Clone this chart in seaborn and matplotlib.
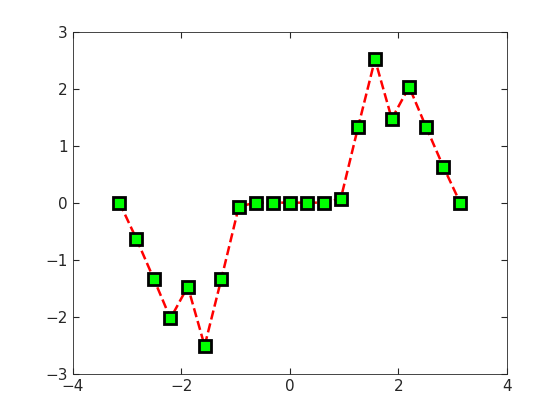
import numpy as np
import pandas as pd
import seaborn as sns
from matplotlib import pyplot as plt

# values
xs = [-3.14, -2.83, -2.51, -2.20, -1.88, -1.57, -1.26, -0.94, -0.63, -0.31,
      0.0, 0.31, 0.63, 0.94, 1.26, 1.57, 1.88, 2.20, 2.51, 2.83, 3.14]
ys = [0.0, -0.63, -1.33, -2.03, -1.47, -2.51, -1.33, -0.07, 0.0, 0.0,
      0.0, 0.0, 0.0, 0.07, 1.33, 2.51, 1.47, 2.03, 1.33, 0.63, 0.0]
df = pd.DataFrame({'x': xs, 'y': ys})

sns.set_style('white')
plt.rcParams['font.family'] = ['DejaVu Sans']

fig = plt.figure(figsize=(5.6, 4.2), dpi=100)
ax = fig.add_axes([0.13, 0.11, 0.775, 0.815])
sns.lineplot(data=df, x='x', y='y', ax=ax, color='red', linestyle='--',
             linewidth=1.8, marker='s', markersize=8,
             markerfacecolor='#00ff00', markeredgecolor='black',
             markeredgewidth=2)
ax.set_xlim(-4, 4)
ax.set_ylim(-3, 3)
ax.set_xticks([-4, -2, 0, 2, 4])
ax.set_yticks([-3, -2, -1, 0, 1, 2, 3])
ax.set_xlabel('')
ax.set_ylabel('')
for s in ax.spines.values():
    s.set_color('#262626')
    s.set_linewidth(0.6)
ax.tick_params(direction='in', length=4, labelsize=11, colors='#262626',
               top=True, right=True, bottom=True, left=True)
plt.savefig('out.png', dpi=100)
